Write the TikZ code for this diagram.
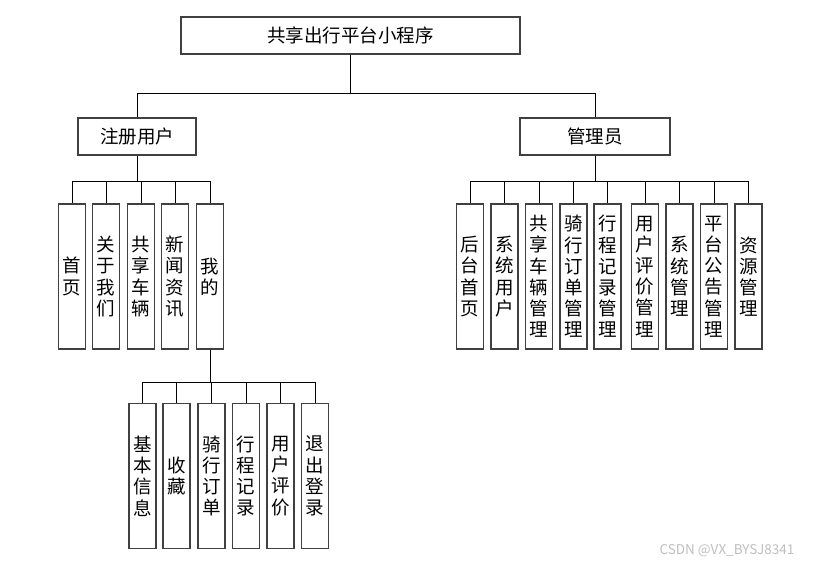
\documentclass[tikz,border=0pt]{standalone}
\usepackage{fontspec}
\setmainfont{Noto Sans CJK SC}
\begin{document}
\begin{tikzpicture}[x=1pt,y=-1pt,
  box/.style={draw=black!75, line width=1.1pt, inner sep=0pt, align=center, font=\fontsize{18.5}{21.2}\selectfont},
  hbox/.style={box, minimum height=37pt, font=\fontsize{18.5}{21}\selectfont},
  vbox/.style={box, minimum width=27pt, minimum height=145pt},
  link/.style={draw=black, line width=0.9pt},
  wmark/.style={font=\fontsize{13.5}{15}\selectfont, text=black!25}]
\useasboundingbox (0,0) rectangle (818,567);
% top levels
\node[hbox, minimum width=339pt] (top) at (350.5,35.5) {共享出行平台小程序};
\node[hbox, minimum width=118pt] (reg) at (137,136.5) {注册用户};
\node[hbox, minimum width=150pt] (adm) at (595,136.5) {管理员};
% bus coordinates
\coordinate (bus0) at (0,93);
\coordinate (bus1) at (0,181);
\coordinate (bus2) at (0,181);
\coordinate (bus3) at (0,382);
% registered user children
\node[vbox] (l1) at (72,276.5) {首\\页};
\node[vbox] (l2) at (106,276.5) {关\\于\\我\\们};
\node[vbox] (l3) at (141,276.5) {共\\享\\车\\辆};
\node[vbox] (l4) at (175,276.5) {新\\闻\\资\\讯};
\node[vbox] (l5) at (210,276.5) {我\\的};
% "mine" children
\node[vbox] (g1) at (142.5,476) {基\\本\\信\\息};
\node[vbox] (g2) at (176.5,476) {收\\藏};
\node[vbox] (g3) at (211.5,476) {骑\\行\\订\\单};
\node[vbox] (g4) at (246,476) {行\\程\\记\\录};
\node[vbox] (g5) at (280.5,476) {用\\户\\评\\价};
\node[vbox] (g6) at (315,476) {退\\出\\登\\录};
% admin children
\node[vbox] (r1) at (470,276.5) {后\\台\\首\\页};
\node[vbox] (r2) at (504.5,276.5) {系\\统\\用\\户};
\node[vbox] (r3) at (539,276.5) {共\\享\\车\\辆\\管\\理};
\node[vbox] (r4) at (573.5,276.5) {骑\\行\\订\\单\\管\\理};
\node[vbox] (r5) at (607.5,276.5) {行\\程\\记\\录\\管\\理};
\node[vbox] (r6) at (645,276.5) {用\\户\\评\\价\\管\\理};
\node[vbox] (r7) at (679.5,276.5) {系\\统\\管\\理};
\node[vbox] (r8) at (714,276.5) {平\\台\\公\\告\\管\\理};
\node[vbox] (r9) at (748.5,276.5) {资\\源\\管\\理};
% connectors
\foreach \c in {reg,adm}
  \draw[link] (top.south) -- (top.south |- bus0) -| (\c.north);
\foreach \c in {l1,l2,l3,l4,l5}
  \draw[link] (reg.south) -- (reg.south |- bus1) -| (\c.north);
\foreach \c in {g1,g2,g3,g4,g5,g6}
  \draw[link] (l5.south) -- (l5.south |- bus3) -| (\c.north);
\foreach \c in {r1,r2,r3,r4,r5,r6,r7,r8,r9}
  \draw[link] (adm.south) -- (adm.south |- bus2) -| (\c.north);
% watermark
\node[wmark] (wm) at (727,551) {CSDN @VX\_BYSJ8341};
\end{tikzpicture}
\end{document}
